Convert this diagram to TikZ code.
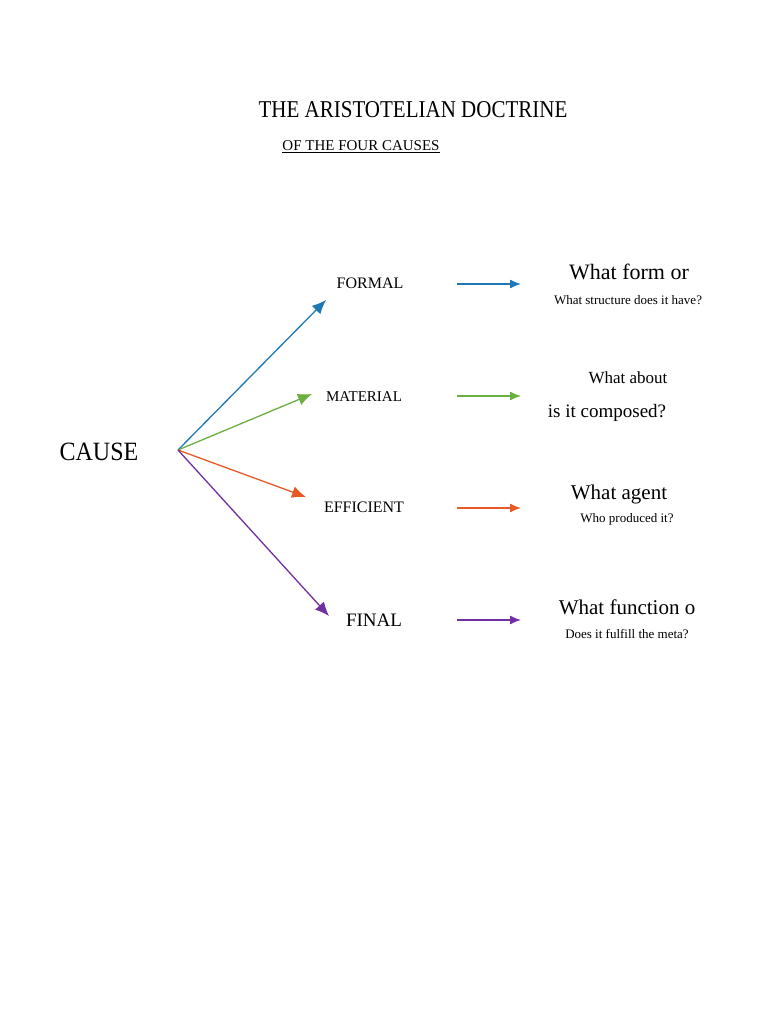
\documentclass[tikz,border=0pt]{standalone}
\usepackage{fontspec}
\setmainfont{Liberation Serif}
\definecolor{cblue}{RGB}{31,119,180}
\definecolor{cgreen}{RGB}{106,176,64}
\definecolor{corange}{RGB}{230,90,40}
\definecolor{cpurple}{RGB}{112,48,160}
\tikzset{x=1pt,y=-1pt,
 lbl/.style={inner sep=0pt,anchor=center},
 arr/.style={line width=1.3pt,-{Latex[length=14pt,width=12pt]}},
 harr/.style={line width=1.3pt,-{Latex[length=11pt,width=9pt]}}}
\usetikzlibrary{arrows.meta}
\begin{document}
\begin{tikzpicture}
\useasboundingbox (0,0) rectangle (768,1024);
\node[lbl,yscale=1.15] (t1) at (413,110) {\fontsize{21}{24}\selectfont THE ARISTOTELIAN DOCTRINE};
\node[lbl] (t2) at (361,147) {\fontsize{15}{17}\selectfont \underline{OF THE FOUR CAUSES}};
\node[lbl,yscale=1.1] (cause) at (99,452) {\fontsize{24}{28}\selectfont CAUSE};
\coordinate (o) at (178,450);
\node[lbl] (formal) at (370,283) {\fontsize{16}{19}\selectfont FORMAL};
\node[lbl] (material) at (364,397) {\fontsize{15}{18}\selectfont MATERIAL};
\node[lbl] (efficient) at (364,507) {\fontsize{16}{19}\selectfont EFFICIENT};
\node[lbl] (final) at (374,620) {\fontsize{19}{22}\selectfont FINAL};
\coordinate (e1) at (326,300); \coordinate (e2) at (312,394);
\coordinate (e3) at (306,497); \coordinate (e4) at (329,616);
\draw[arr,cblue] (o) -- (e1);
\draw[arr,cgreen] (o) -- (e2);
\draw[arr,corange] (o) -- (e3);
\draw[arr,cpurple] (o) -- (e4);
\foreach \y/\c/\n in {284/cblue/1,396/cgreen/2,508/corange/3,620/cpurple/4}{
 \coordinate (a\n) at (457,\y); \coordinate (b\n) at (521,\y);
 \draw[harr,\c] (a\n) -- (b\n);}
\node[lbl] (q1) at (629,272) {\fontsize{22}{26}\selectfont What form or};
\node[lbl] (s1) at (628,300) {\fontsize{13}{15}\selectfont What structure does it have?};
\node[lbl] (q2) at (628,378) {\fontsize{17}{20}\selectfont What about};
\node[lbl] (s2) at (607,413) {\fontsize{19}{22}\selectfont is it composed?};
\node[lbl] (q3) at (619,494) {\fontsize{21}{25}\selectfont What agent};
\node[lbl] (s3) at (627,519) {\fontsize{13}{15}\selectfont Who produced it?};
\node[lbl] (q4) at (627,607) {\fontsize{21}{25}\selectfont What function o};
\node[lbl] (s4) at (627,634) {\fontsize{13}{15}\selectfont Does it fulfill the meta?};
\end{tikzpicture}
\end{document}
